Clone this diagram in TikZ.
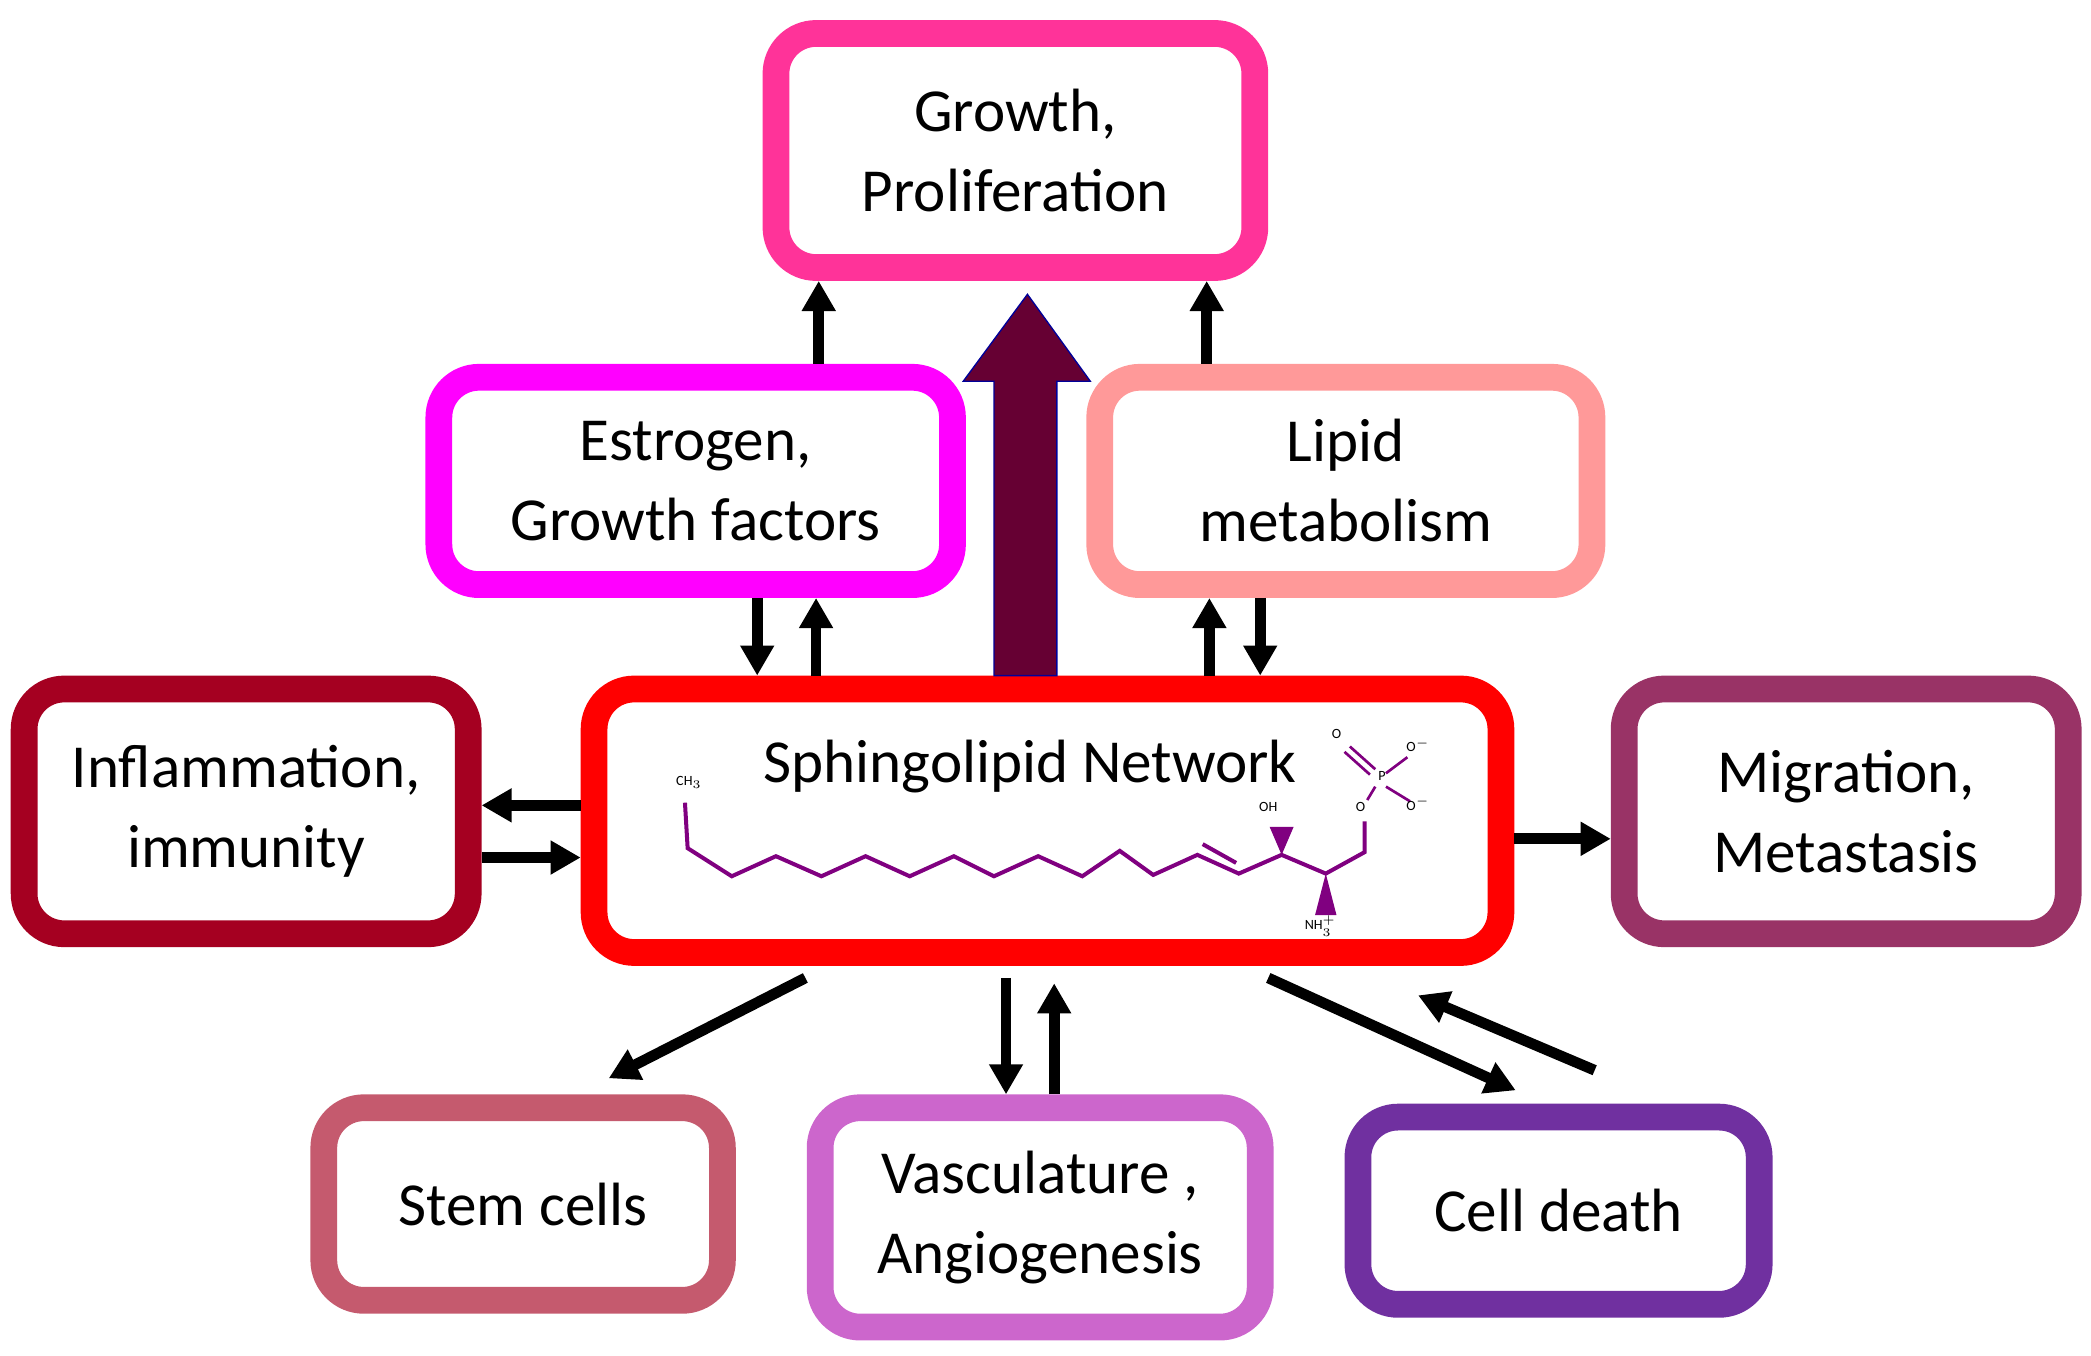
\documentclass[tikz,border=0pt]{standalone}
\usepackage{fontspec}
\setmainfont{Carlito}
\usetikzlibrary{arrows.meta}
\definecolor{growcol}{HTML}{FF3399}
\definecolor{estcol}{HTML}{FF00FF}
\definecolor{lipcol}{HTML}{FF9999}
\definecolor{inflcol}{HTML}{A50021}
\definecolor{sphcol}{HTML}{FF0000}
\definecolor{migcol}{HTML}{993366}
\definecolor{stemcol}{HTML}{C55A6E}
\definecolor{vascol}{HTML}{CC66CC}
\definecolor{deathcol}{HTML}{7030A0}
\definecolor{bigcol}{HTML}{660033}
\definecolor{molcol}{HTML}{800080}
\begin{document}
\begin{tikzpicture}[x=0.02cm,y=-0.02cm,
  box/.style={draw=#1, line width=0.4cm, rounded corners=0.6cm, fill=white,
    inner sep=0pt, align=center, font=\fontsize{26}{34}\selectfont},
  arr/.style={line width=0.16cm, -{Triangle[length=0.45cm,width=0.48cm]}},
  mol/.style={molcol, line width=0.06cm},
  atom/.style={font=\fontsize{6}{7}\selectfont, inner sep=0pt}]
\useasboundingbox (0,0) rectangle (1563,1013);

% Boxes
\node[box=growcol, minimum width=7.16cm, minimum height=3.5cm] (grow) at (759,112.5) {Growth,\\Proliferation};
\node[box=estcol, minimum width=7.68cm, minimum height=3.1cm] (est) at (520,359.5) {Estrogen,\\Growth factors};
\node[box=lipcol, minimum width=7.36cm, minimum height=3.1cm] (lip) at (1006,359.5) {Lipid\\metabolism};
\node[box=inflcol, minimum width=6.64cm, minimum height=3.66cm] (infl) at (184,606.5) {Inflammation,\\immunity};
\node[box=sphcol, minimum width=13.56cm, minimum height=3.94cm] (sph) at (783,613.5) {};
\node[box=migcol, minimum width=6.64cm, minimum height=3.66cm] (mig) at (1380,606.5) {Migration,\\Metastasis};
\node[box=stemcol, minimum width=5.96cm, minimum height=2.88cm] (stem) at (391,900) {Stem cells};
\node[box=vascol, minimum width=6.58cm, minimum height=3.28cm] (vasc) at (777.5,910) {Vasculature ,\\Angiogenesis};
\node[box=deathcol, minimum width=6cm, minimum height=2.8cm] (death) at (1165,905) {Cell death};
\node[font=\fontsize{26}{34}\selectfont] (sphlabel) at (770,573) {Sphingolipid Network};

% Molecule
\draw[mol] (512,600) -- (514,634) -- (547,655) -- (580,640) -- (614,655) -- (647,640)
  -- (680,655) -- (713,640) -- (743,655) -- (776,640) -- (809,655) -- (837,636)
  -- (862,654) -- (895,639) -- (926,653) -- (958,639) -- (991,653) -- (1020,637) -- (1020,614);
\draw[mol] (899,631) -- (924,645);
\fill[molcol] (958,639) -- (949,618) -- (967,618) -- cycle;
\fill[molcol] (991,653) -- (983,684) -- (999,684) -- cycle;
\draw[mol, line width=0.04cm] (1022,598) -- (1028,588);
\draw[mol, line width=0.04cm] (1005,562) -- (1024,579) (1009,558) -- (1028,575);
\draw[mol, line width=0.04cm] (1036,578) -- (1052,566) (1036,588) -- (1054,599);
\node[atom] (ch3) at (515,585) {CH$_3$};
\node[atom] (oh) at (948,603) {OH};
\node[atom] (nh3) at (987,692) {NH$_3^+$};
\node[atom] (olink) at (1017,603) {O};
\node[atom] (phos) at (1033,580) {P};
\node[atom] (otop) at (999,549) {O};
\node[atom] (oup) at (1060,557) {O$^-$};
\node[atom] (odown) at (1060,601) {O$^-$};

% Big arrow
\filldraw[fill=bigcol, draw=blue!60!black, line width=0.02cm] (743,505) -- (743,285) -- (720,285)
  -- (768,220) -- (815,285) -- (790,285) -- (790,505) -- cycle;

% Arrows
\draw[arr] (est.north -| 612,0) -- (grow.south -| 612,0);
\draw[arr] (lip.north -| 902,0) -- (grow.south -| 902,0);
\draw[arr] (est.south -| 566,0) -- (sph.north -| 566,0);
\draw[arr] (sph.north -| 610,0) -- (est.south -| 610,0);
\draw[arr] (sph.north -| 904,0) -- (lip.south -| 904,0);
\draw[arr] (lip.south -| 942,0) -- (sph.north -| 942,0);
\draw[arr] (sph.west |- 0,602) -- (infl.east |- 0,602);
\draw[arr] (infl.east |- 0,641) -- (sph.west |- 0,641);
\draw[arr] (sph.east |- 0,627) -- (mig.west |- 0,627);
\coordinate (stemin) at (455,806);
\coordinate (sphout) at (602,731);
\draw[arr] (sphout) -- (stemin);
\draw[arr] (752,731) -- (vasc.north -| 752,0);
\draw[arr] (vasc.north -| 788,0) -- (788,735);
\coordinate (deathin) at (1133,815);
\coordinate (deathout) at (1192,800);
\coordinate (sphin) at (1060,744);
\coordinate (sphout2) at (948,731);
\draw[arr] (sphout2) -- (deathin);
\draw[arr] (deathout) -- (sphin);
\end{tikzpicture}
\end{document}
